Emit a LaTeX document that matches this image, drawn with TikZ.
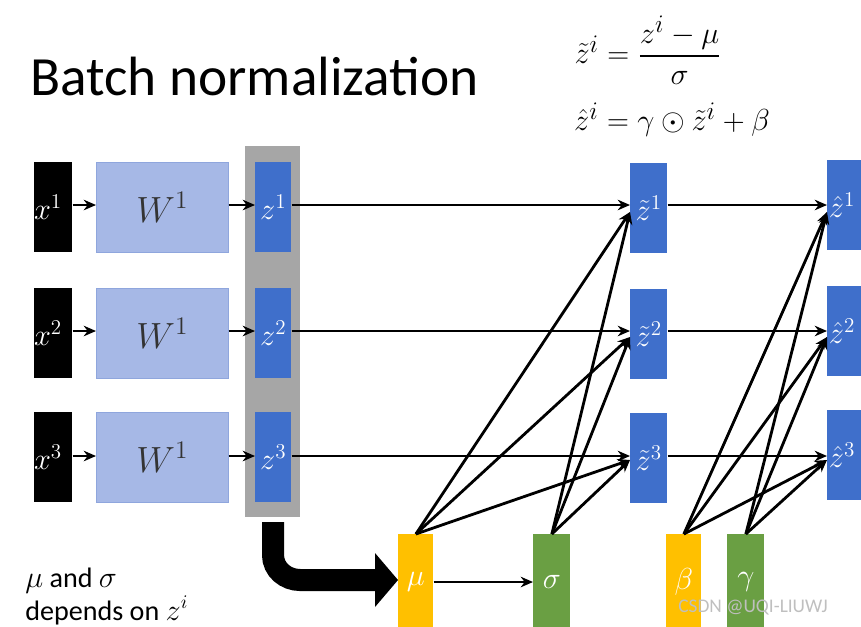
\documentclass[tikz,border=0pt]{standalone}
\usepackage{amsmath}
\usepackage{fontspec}
\setmainfont{Carlito}
\usetikzlibrary{arrows.meta}
\definecolor{zb}{HTML}{3F6FCB}
\definecolor{wb}{HTML}{A6B8E6}
\definecolor{wbd}{HTML}{8FA6DD}
\definecolor{gr}{HTML}{A6A6A6}
\definecolor{orng}{HTML}{FFC000}
\definecolor{grn}{HTML}{6A9F43}
\begin{document}
\begin{tikzpicture}[x=0.02cm,y=-0.02cm,
  bx/.style n args={3}{draw=none,fill=#1,minimum width=#2*0.02cm,minimum height=#3*0.02cm,inner sep=0pt,anchor=north west,text=white,font=\fontsize{17}{17}\selectfont},
  ar/.style={-{Stealth[length=7pt,width=6pt]},line width=1.5pt},
  lk/.style={-{Stealth[length=7pt,width=6pt]},line width=1.6pt}]
\useasboundingbox (0,0) rectangle (861,626);
\node[anchor=base west,font=\fontsize{31.5}{31.5}\selectfont,inner sep=0pt] (title) at (30,95) {Batch normalization};
\node[anchor=center,font=\fontsize{19}{19}\selectfont] (f1) at (648,50) {$\tilde z^{i}=\dfrac{z^{i}-\mu}{\sigma}$};
\node[anchor=center,font=\fontsize{19}{19}\selectfont] (f2) at (672,120) {$\hat z^{i}=\gamma\odot\tilde z^{i}+\beta$};
\node[bx={gr}{55}{371}] (g) at (245,146) {};
\foreach \i/\y in {1/162,2/288,3/412}{
  \node[bx={black}{38}{90}] (x\i) at (34,\y) {\hspace*{-6pt}$x^{\i}$};
  \node[bx={wb}{132}{90},draw=wbd,text=black!80,font=\fontsize{20}{20}\selectfont] (w\i) at (96,\y) {$W^{1}$};
  \node[bx={zb}{36}{90}] (z\i) at (255,\y) {$z^{\i}$};
  \node[bx={zb}{37}{90}] (t\i) at (630,\y+1) {$\tilde z^{\i}$};
  \node[bx={zb}{40}{90}] (h\i) at (827,\y-2) {\hspace*{-6pt}$\hat z^{\i}$};
}
\node[bx={orng}{35}{95}] (mu) at (398,534) {$\mu$};
\node[bx={grn}{37}{95}] (sg) at (533,534) {$\sigma$};
\node[bx={orng}{35}{95}] (be) at (666,534) {$\beta$};
\node[bx={grn}{37}{95}] (ga) at (727,534) {$\gamma$};
\foreach \i/\y in {1/205,2/331,3/456}{
  \draw[ar] (x\i.east |- 0,\y) -- (w\i.west |- 0,\y);
  \draw[ar] (w\i.east |- 0,\y) -- (z\i.west |- 0,\y);
  \draw[ar] (z\i.east |- 0,\y) -- (t\i.west |- 0,\y);
  \draw[ar] (t\i.east |- 0,\y) -- (h\i.west |- 0,\y);
}
\foreach \i/\y in {1/212,2/337,3/460}{
  \coordinate (te\i) at (t\i.west |- 0,\y);
  \coordinate (he\i) at (h\i.west |- 0,\y);
  \draw[lk] (mu.north) -- (te\i);
  \draw[lk] (sg.north) -- (te\i);
  \draw[lk] (be.north) -- (he\i);
  \draw[lk] (ga.north) -- (he\i);
}
\draw[ar] (mu.east |- 0,582) -- (sg.west |- 0,582);
\coordinate (bs) at (273,522);
\coordinate (bt) at (375,580);
\draw[line width=22*0.02cm] (bs) -- (273,555) to[out=-90,in=180] (300,580) -- (bt);
\fill (375,553) -- (398,580) -- (375,607) -- cycle;
\node[anchor=base west,font=\fontsize{16}{16}\selectfont,inner sep=0pt] (n1) at (25,587) {$\mu$ and $\sigma$};
\node[anchor=base west,font=\fontsize{16}{16}\selectfont,inner sep=0pt] (n2) at (25,620) {depends on $z^{i}$};
\node[anchor=base west,font=\fontsize{11}{11}\selectfont,inner sep=0pt,text=black!25] (wm) at (678,612) {CSDN @UQI-LIUWJ};
\end{tikzpicture}
\end{document}
